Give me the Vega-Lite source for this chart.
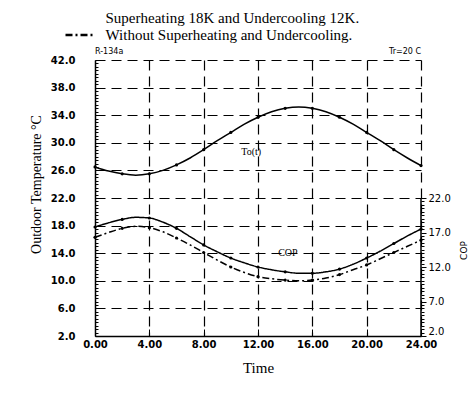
{
  "$schema": "https://vega.github.io/schema/vega-lite/v6.json",
  "width": 326,
  "height": 276,
  "autosize": "none",
  "padding": {"left": 95, "top": 60, "right": 53, "bottom": 61},
  "background": "white",
  "view": {"stroke": null},
  "config": {"font": "DejaVu Sans"},
  "datasets": {
    "to": [
      {"t": 0, "v": 26.5}, {"t": 1, "v": 25.9}, {"t": 2, "v": 25.5}, {"t": 3, "v": 25.3}, {"t": 4, "v": 25.5},
      {"t": 5, "v": 26.0}, {"t": 6, "v": 26.8}, {"t": 7, "v": 27.8}, {"t": 8, "v": 29.0}, {"t": 9, "v": 30.3},
      {"t": 10, "v": 31.5}, {"t": 11, "v": 32.7}, {"t": 12, "v": 33.7}, {"t": 13, "v": 34.5}, {"t": 14, "v": 35.0},
      {"t": 15, "v": 35.2}, {"t": 16, "v": 35.0}, {"t": 17, "v": 34.5}, {"t": 18, "v": 33.7}, {"t": 19, "v": 32.7},
      {"t": 20, "v": 31.5}, {"t": 21, "v": 30.3}, {"t": 22, "v": 29.0}, {"t": 23, "v": 27.8}, {"t": 24, "v": 26.7}
    ],
    "cop": [
      {"t": 0, "case": "Superheating 18K and Undercooling 12K.", "v": 17.8},
      {"t": 1, "case": "Superheating 18K and Undercooling 12K.", "v": 18.4},
      {"t": 2, "case": "Superheating 18K and Undercooling 12K.", "v": 18.9},
      {"t": 3, "case": "Superheating 18K and Undercooling 12K.", "v": 19.2},
      {"t": 4, "case": "Superheating 18K and Undercooling 12K.", "v": 19.1},
      {"t": 5, "case": "Superheating 18K and Undercooling 12K.", "v": 18.5},
      {"t": 6, "case": "Superheating 18K and Undercooling 12K.", "v": 17.6},
      {"t": 7, "case": "Superheating 18K and Undercooling 12K.", "v": 16.4},
      {"t": 8, "case": "Superheating 18K and Undercooling 12K.", "v": 15.2},
      {"t": 9, "case": "Superheating 18K and Undercooling 12K.", "v": 14.2},
      {"t": 10, "case": "Superheating 18K and Undercooling 12K.", "v": 13.3},
      {"t": 11, "case": "Superheating 18K and Undercooling 12K.", "v": 12.6},
      {"t": 12, "case": "Superheating 18K and Undercooling 12K.", "v": 12.0},
      {"t": 13, "case": "Superheating 18K and Undercooling 12K.", "v": 11.6},
      {"t": 14, "case": "Superheating 18K and Undercooling 12K.", "v": 11.3},
      {"t": 15, "case": "Superheating 18K and Undercooling 12K.", "v": 11.1},
      {"t": 16, "case": "Superheating 18K and Undercooling 12K.", "v": 11.1},
      {"t": 17, "case": "Superheating 18K and Undercooling 12K.", "v": 11.3},
      {"t": 18, "case": "Superheating 18K and Undercooling 12K.", "v": 11.7},
      {"t": 19, "case": "Superheating 18K and Undercooling 12K.", "v": 12.4},
      {"t": 20, "case": "Superheating 18K and Undercooling 12K.", "v": 13.3},
      {"t": 21, "case": "Superheating 18K and Undercooling 12K.", "v": 14.3},
      {"t": 22, "case": "Superheating 18K and Undercooling 12K.", "v": 15.4},
      {"t": 23, "case": "Superheating 18K and Undercooling 12K.", "v": 16.5},
      {"t": 24, "case": "Superheating 18K and Undercooling 12K.", "v": 17.5},
      {"t": 0, "case": "Without Superheating and Undercooling.", "v": 16.3},
      {"t": 1, "case": "Without Superheating and Undercooling.", "v": 17.0},
      {"t": 2, "case": "Without Superheating and Undercooling.", "v": 17.6},
      {"t": 3, "case": "Without Superheating and Undercooling.", "v": 17.9},
      {"t": 4, "case": "Without Superheating and Undercooling.", "v": 17.7},
      {"t": 5, "case": "Without Superheating and Undercooling.", "v": 17.1},
      {"t": 6, "case": "Without Superheating and Undercooling.", "v": 16.2},
      {"t": 7, "case": "Without Superheating and Undercooling.", "v": 15.2},
      {"t": 8, "case": "Without Superheating and Undercooling.", "v": 14.1},
      {"t": 9, "case": "Without Superheating and Undercooling.", "v": 13.0},
      {"t": 10, "case": "Without Superheating and Undercooling.", "v": 12.0},
      {"t": 11, "case": "Without Superheating and Undercooling.", "v": 11.2},
      {"t": 12, "case": "Without Superheating and Undercooling.", "v": 10.6},
      {"t": 13, "case": "Without Superheating and Undercooling.", "v": 10.3},
      {"t": 14, "case": "Without Superheating and Undercooling.", "v": 10.1},
      {"t": 15, "case": "Without Superheating and Undercooling.", "v": 10.0},
      {"t": 16, "case": "Without Superheating and Undercooling.", "v": 10.1},
      {"t": 17, "case": "Without Superheating and Undercooling.", "v": 10.4},
      {"t": 18, "case": "Without Superheating and Undercooling.", "v": 10.9},
      {"t": 19, "case": "Without Superheating and Undercooling.", "v": 11.6},
      {"t": 20, "case": "Without Superheating and Undercooling.", "v": 12.3},
      {"t": 21, "case": "Without Superheating and Undercooling.", "v": 13.2},
      {"t": 22, "case": "Without Superheating and Undercooling.", "v": 14.1},
      {"t": 23, "case": "Without Superheating and Undercooling.", "v": 15.0},
      {"t": 24, "case": "Without Superheating and Undercooling.", "v": 15.9}
    ],
    "notes": [
      {"t": 0, "v": 42.9, "label": "R-134a"},
      {"t": 24, "v": 42.9, "label": "Tr=20 C"},
      {"t": 11.5, "v": 28.7, "label": "To(t)"},
      {"t": 14.2, "v": 14.0, "label": "COP"}
    ]
  },
  "layer": [
    {
      "data": {"name": "to"},
      "mark": {"type": "line", "color": "black", "strokeWidth": 1.5, "interpolate": "monotone"},
      "encoding": {
        "x": {
          "field": "t", "type": "quantitative",
          "scale": {"domain": [0, 24], "nice": false, "zero": false},
          "axis": {
            "orient": "bottom",
            "values": [0,0.5,1,1.5,2,2.5,3,3.5,4,4.5,5,5.5,6,6.5,7,7.5,8,8.5,9,9.5,10,10.5,11,11.5,12,12.5,13,13.5,14,14.5,15,15.5,16,16.5,17,17.5,18,18.5,19,19.5,20,20.5,21,21.5,22,22.5,23,23.5,24],
            "labelExpr": "datum.value % 4 === 0 ? format(datum.value, '.2f') : ''",
            "labelFont": "DejaVu Sans", "labelFontWeight": "bold", "labelFontSize": 10, "labelColor": "black",
            "labelPadding": 10, "labelOverlap": false, "labelFlush": false,
            "tickColor": "black", "tickWidth": 1,
            "tickSize": {"condition": {"test": "datum.value % 4 === 0", "value": -7}, "value": -3},
            "domainColor": "black", "domainWidth": 1.5,
            "grid": true, "gridColor": "black", "gridDash": [10, 6], "gridWidth": 1.2,
            "gridOpacity": {"condition": {"test": "datum.value % 4 === 0 && datum.value > 0", "value": 1}, "value": 0},
            "title": "Time", "titleFont": "Liberation Serif", "titleFontWeight": "normal", "titleFontSize": 15,
            "titleColor": "black", "titlePadding": 11
          }
        },
        "y": {
          "field": "v", "type": "quantitative",
          "scale": {"domain": [2, 42], "nice": false, "zero": false},
          "axis": {
            "orient": "left",
            "values": [2,2.5,3,3.5,4,4.5,5,5.5,6,6.5,7,7.5,8,8.5,9,9.5,10,10.5,11,11.5,12,12.5,13,13.5,14,14.5,15,15.5,16,16.5,17,17.5,18,18.5,19,19.5,20,20.5,21,21.5,22,22.5,23,23.5,24,24.5,25,25.5,26,26.5,27,27.5,28,28.5,29,29.5,30,30.5,31,31.5,32,32.5,33,33.5,34,34.5,35,35.5,36,36.5,37,37.5,38,38.5,39,39.5,40,40.5,41,41.5,42],
            "labelExpr": "(datum.value - 2) % 4 === 0 ? format(datum.value, '.1f') : ''",
            "labelFont": "DejaVu Sans", "labelFontWeight": "bold", "labelFontSize": 10, "labelColor": "black",
            "labelPadding": 27, "labelOverlap": false, "labelFlush": false,
            "tickColor": "black", "tickWidth": 1,
            "tickSize": {"condition": {"test": "(datum.value - 2) % 4 === 0", "value": -7}, "value": -3},
            "domainColor": "black", "domainWidth": 1.5,
            "grid": true, "gridColor": "black", "gridDash": [10, 6], "gridWidth": 1.2,
            "gridOpacity": {"condition": {"test": "(datum.value - 2) % 4 === 0 && datum.value > 2", "value": 1}, "value": 0},
            "title": "Outdoor Temperature        °C", "titleFont": "Liberation Serif", "titleFontWeight": "normal",
            "titleFontSize": 14, "titleColor": "black", "titlePadding": 7, "titleY": 124
          }
        }
      }
    },
    {
      "data": {"name": "to"},
      "transform": [{"filter": "datum.t % 2 === 0"}],
      "mark": {"type": "circle", "color": "black", "size": 10, "opacity": 1},
      "encoding": {
        "x": {"field": "t", "type": "quantitative"},
        "y": {"field": "v", "type": "quantitative", "axis": null}
      }
    },
    {
      "data": {"name": "cop"},
      "mark": {"type": "line", "color": "black", "strokeWidth": 1.5, "interpolate": "monotone"},
      "encoding": {
        "x": {"field": "t", "type": "quantitative"},
        "y": {"field": "v", "type": "quantitative", "axis": null},
        "strokeDash": {
          "field": "case", "type": "nominal",
          "scale": {"domain": ["Superheating 18K and Undercooling 12K.", "Without Superheating and Undercooling."], "range": [[1, 0], [7, 3, 2, 3]]},
          "legend": {
            "orient": "none", "legendX": -23.5, "legendY": -51, "title": null, "padding": 0,
            "symbolType": "M-2,0L2,0", "symbolSize": 225, "symbolStrokeWidth": 2.5, "symbolStrokeColor": "black",
            "labelFont": "Liberation Serif", "labelFontSize": 15, "labelColor": "black", "labelOffset": 16,
            "labelLimit": 400, "rowPadding": -2,
            "encode": {"symbols": {"update": {"opacity": {"signal": "datum.value === 'Superheating 18K and Undercooling 12K.' ? 0 : 1"}}}}
          }
        }
      }
    },
    {
      "data": {"name": "cop"},
      "transform": [{"filter": "datum.t % 2 === 0"}],
      "mark": {"type": "circle", "color": "black", "size": 10, "opacity": 1},
      "encoding": {
        "x": {"field": "t", "type": "quantitative"},
        "y": {"field": "v", "type": "quantitative", "axis": null}
      }
    },
    {
      "data": {"name": "notes"},
      "transform": [{"filter": "datum.label === 'R-134a'"}],
      "mark": {"type": "text", "align": "left", "baseline": "alphabetic", "font": "DejaVu Sans", "fontSize": 8, "color": "black"},
      "encoding": {
        "x": {"field": "t", "type": "quantitative"},
        "y": {"field": "v", "type": "quantitative", "axis": null},
        "text": {"field": "label"}
      }
    },
    {
      "data": {"name": "notes"},
      "transform": [{"filter": "datum.label === 'Tr=20 C'"}],
      "mark": {"type": "text", "align": "right", "baseline": "alphabetic", "font": "DejaVu Sans", "fontSize": 8, "color": "black"},
      "encoding": {
        "x": {"field": "t", "type": "quantitative"},
        "y": {"field": "v", "type": "quantitative", "axis": null},
        "text": {"field": "label"}
      }
    },
    {
      "data": {"name": "notes"},
      "transform": [{"filter": "datum.label === 'To(t)' || datum.label === 'COP'"}],
      "mark": {"type": "text", "align": "center", "baseline": "middle", "font": "Liberation Serif", "fontSize": 10, "color": "black"},
      "encoding": {
        "x": {"field": "t", "type": "quantitative"},
        "y": {"field": "v", "type": "quantitative", "axis": null},
        "text": {"field": "label"}
      }
    },
    {
      "data": {"values": [{}]},
      "mark": {"type": "rule", "color": "black", "strokeWidth": 1.5},
      "encoding": {
        "x": {"datum": 24, "type": "quantitative"},
        "y": {
          "datum": 2, "type": "quantitative",
          "axis": {
            "orient": "right",
            "values": [2,2.5,3,3.5,4,4.5,5,5.5,6,6.5,7,7.5,8,8.5,9,9.5,10,10.5,11,11.5,12,12.5,13,13.5,14,14.5,15,15.5,16,16.5,17,17.5,18,18.5,19,19.5,20,20.5,21,21.5,22],
            "labelExpr": "(datum.value - 2) % 5 === 0 ? format(datum.value, '.1f') : ''",
            "labelFont": "DejaVu Sans", "labelFontSize": 10, "labelColor": "black",
            "labelPadding": 2, "labelOverlap": false, "labelFlush": false,
            "labelBaseline": {"condition": {"test": "datum.value === 2", "value": "bottom"}, "value": "middle"},
            "tickColor": "black", "tickWidth": 1,
            "tickSize": {"condition": {"test": "(datum.value - 2) % 5 === 0", "value": 5}, "value": 3},
            "domain": false, "grid": false,
            "title": "COP", "titleFont": "DejaVu Sans", "titleFontWeight": "normal", "titleFontSize": 9,
            "titleColor": "black", "titlePadding": 18, "titleY": 190, "titleAngle": 270
          }
        },
        "y2": {"datum": 22}
      }
    }
  ],
  "resolve": {"axis": {"y": "independent"}}
}
